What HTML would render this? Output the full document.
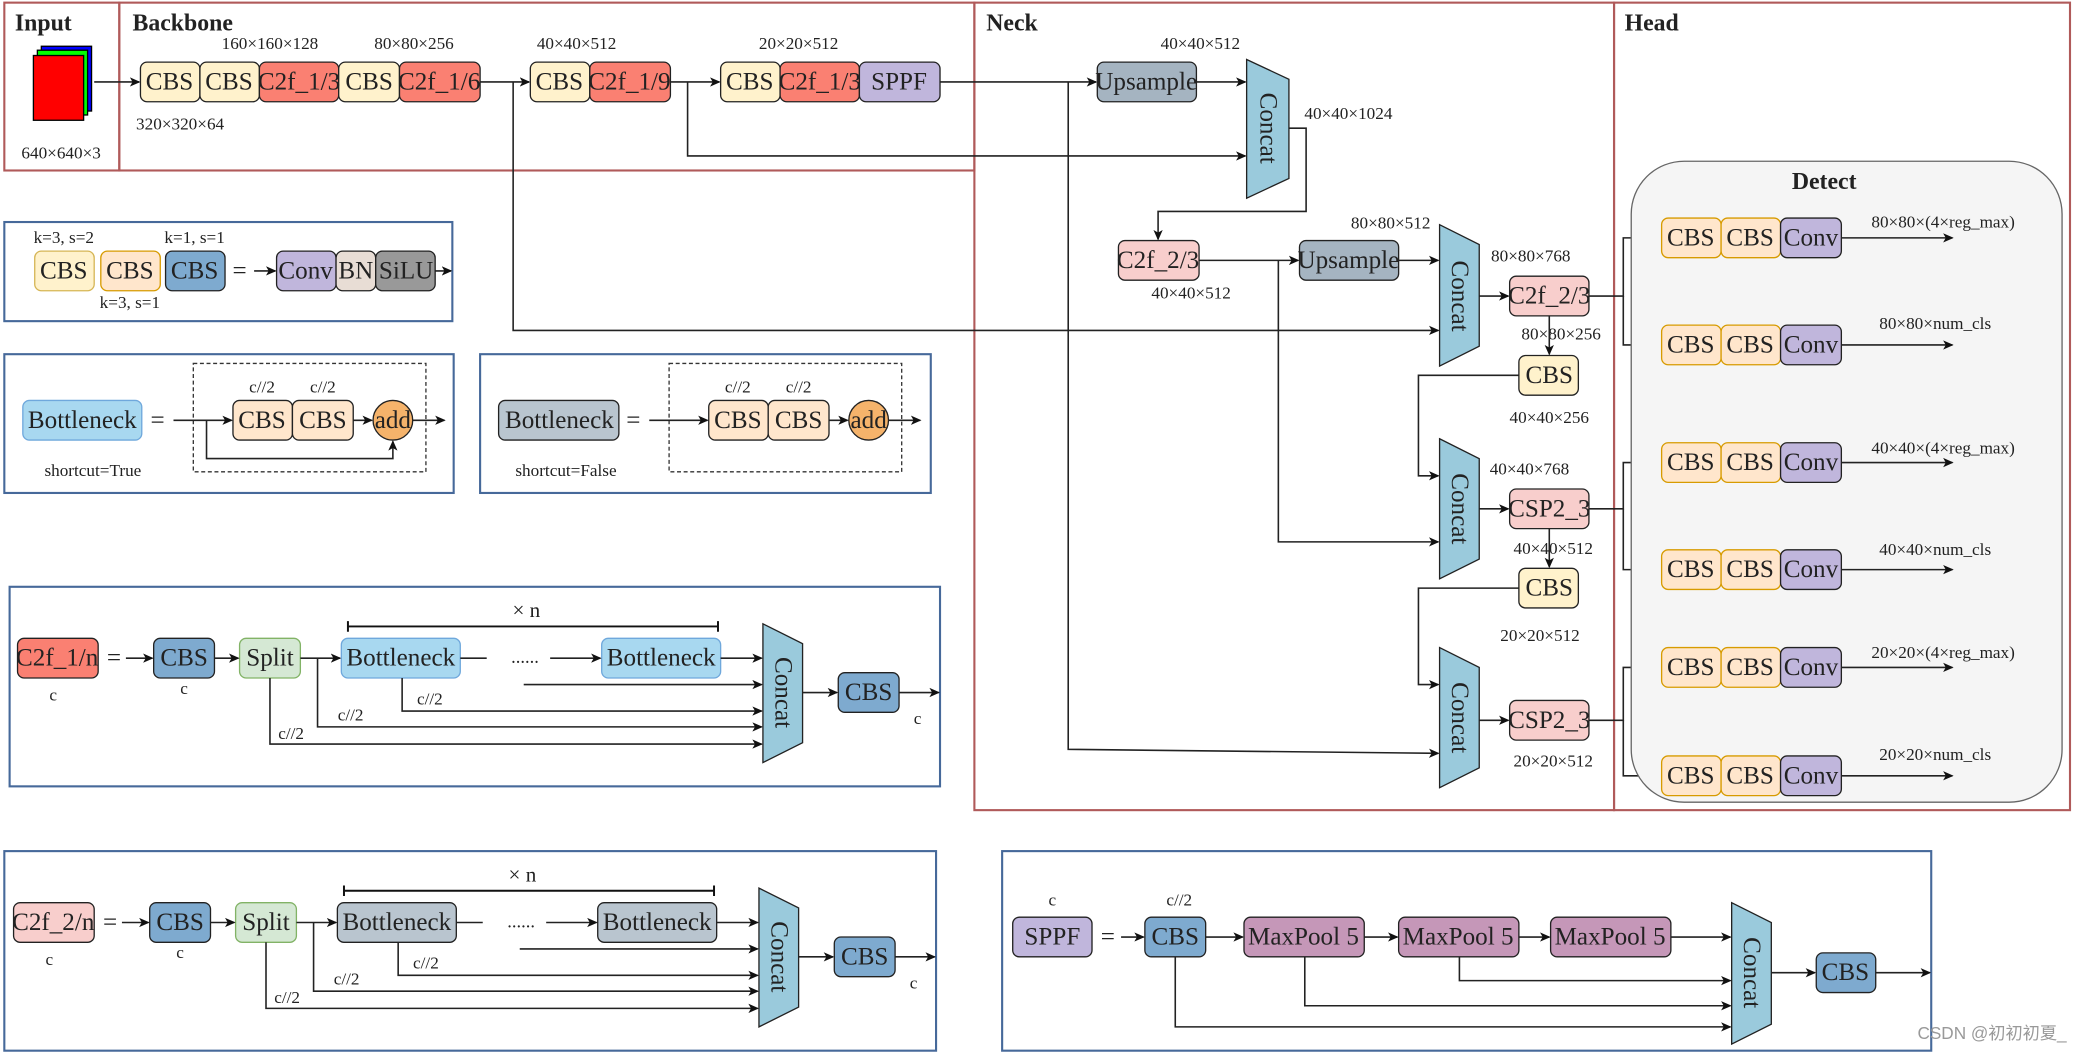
<!DOCTYPE html>
<html><head><meta charset="utf-8"><style>
html,body{margin:0;padding:0;background:#fff}
svg{display:block}
text{font-family:"Liberation Serif",serif;fill:#222}
.b{font-size:19px;text-anchor:middle;dominant-baseline:central}
.s{font-size:13px;text-anchor:middle}
.l{fill:none;stroke:#222;stroke-width:1.2}
</style></head><body>
<svg width="2073" height="1052" viewBox="0 0 1568 796" xmlns="http://www.w3.org/2000/svg">
<defs><marker id="a" markerWidth="8" markerHeight="8" refX="7" refY="4" orient="auto" markerUnits="userSpaceOnUse"><path d="M0,0.5 L8,4 L0,7.5 L2,4z" fill="#111"/></marker></defs>
<g fill="none" stroke="#b05a5a" stroke-width="1.6">
<rect x="3" y="2" width="87" height="127"/><rect x="90" y="2" width="647" height="127"/>
<rect x="737" y="2" width="484" height="611"/><rect x="1221" y="2" width="345" height="611"/>
</g>
<text x="11" y="23" style="font-size:18px;font-weight:bold">Input</text>
<text x="100" y="23" style="font-size:18px;font-weight:bold">Backbone</text>
<text x="746" y="23" style="font-size:18px;font-weight:bold">Neck</text>
<text x="1229" y="23" style="font-size:18px;font-weight:bold">Head</text>
<rect x="31" y="35" width="38" height="49" fill="#00f" stroke="#000"/><rect x="28" y="38" width="38" height="49" fill="#0f0" stroke="#000"/><rect x="25" y="42" width="38" height="49" fill="#f00" stroke="#000"/>
<text x="46" y="120" class="s">640×640×3</text>
<g stroke="#222" stroke-width="1">
<rect x="106" y="47" width="45" height="30" rx="5" fill="#fff2cc"/><rect x="151" y="47" width="45" height="30" rx="5" fill="#fff2cc"/>
<rect x="196" y="47" width="60" height="30" rx="5" fill="#fa8072"/><rect x="256" y="47" width="46" height="30" rx="5" fill="#fff2cc"/>
<rect x="302" y="47" width="61" height="30" rx="5" fill="#fa8072"/>
<rect x="401" y="47" width="45" height="30" rx="5" fill="#fff2cc"/><rect x="446" y="47" width="61" height="30" rx="5" fill="#fa8072"/>
<rect x="545" y="47" width="45" height="30" rx="5" fill="#fff2cc"/><rect x="590" y="47" width="60" height="30" rx="5" fill="#fa8072"/>
<rect x="650" y="47" width="61" height="30" rx="5" fill="#c0b6dc"/>
</g>
<text x="128" y="62" class="b">CBS</text><text x="173" y="62" class="b">CBS</text><text x="226" y="62" class="b">C2f_1/3</text><text x="279" y="62" class="b">CBS</text><text x="332" y="62" class="b">C2f_1/6</text>
<text x="423" y="62" class="b">CBS</text><text x="476" y="62" class="b">C2f_1/9</text><text x="567" y="62" class="b">CBS</text><text x="620" y="62" class="b">C2f_1/3</text><text x="680" y="62" class="b">SPPF</text>
<text x="204" y="37" class="s">160×160×128</text><text x="313" y="37" class="s">80×80×256</text><text x="436" y="37" class="s">40×40×512</text><text x="604" y="37" class="s">20×20×512</text><text x="136" y="98" class="s">320×320×64</text>
<g class="l">
<path d="M71,62H105" marker-end="url(#a)"/><path d="M363,62H400" marker-end="url(#a)"/><path d="M507,62H544" marker-end="url(#a)"/>
<path d="M711,62H829" marker-end="url(#a)"/><path d="M905,62H942" marker-end="url(#a)"/>
<path d="M388,62V250H1088" marker-end="url(#a)"/><path d="M520,62V118H942" marker-end="url(#a)"/>
<path d="M808,62V567L1088,570" marker-end="url(#a)"/>
<path d="M975,97H988V160H876V181" marker-end="url(#a)"/>
<path d="M907,197H982" marker-end="url(#a)"/><path d="M967,197V410H1088" marker-end="url(#a)"/>
<path d="M1058,197H1088" marker-end="url(#a)"/><path d="M1119,224H1141" marker-end="url(#a)"/>
<path d="M1172,239V268" marker-end="url(#a)"/><path d="M1149,284H1073V360H1088" marker-end="url(#a)"/>
<path d="M1119,385H1141" marker-end="url(#a)"/><path d="M1172,400V429" marker-end="url(#a)"/>
<path d="M1149,445H1073V518H1088" marker-end="url(#a)"/><path d="M1119,545H1141" marker-end="url(#a)"/>
<path d="M1202,224H1228V180H1256" marker-end="url(#a)"/><path d="M1228,224V261H1256" marker-end="url(#a)"/>
<path d="M1202,385H1228V350H1256" marker-end="url(#a)"/><path d="M1228,385V431H1256" marker-end="url(#a)"/>
<path d="M1202,545H1228V505H1256" marker-end="url(#a)"/><path d="M1228,545V587H1256" marker-end="url(#a)"/>
</g>
<rect x="830" y="47" width="75" height="30" rx="5" fill="#a5b4c1" stroke="#222"/><text x="867" y="62" class="b">Upsample</text>
<text x="908" y="37" class="s">40×40×512</text><text x="1020" y="90" class="s">40×40×1024</text>
<g fill="#9acadc" stroke="#222">
<polygon points="943,45 975,60 975,135 943,150"/><polygon points="1089,170 1119,185 1119,262 1089,277"/>
<polygon points="1089,332 1119,347 1119,423 1089,438"/><polygon points="1089,490 1119,505 1119,581 1089,596"/>
</g>
<g style="font-size:19px"><text transform="translate(959,97) rotate(90)" text-anchor="middle" dominant-baseline="central">Concat</text>
<text transform="translate(1104,224) rotate(90)" text-anchor="middle" dominant-baseline="central">Concat</text>
<text transform="translate(1104,385) rotate(90)" text-anchor="middle" dominant-baseline="central">Concat</text>
<text transform="translate(1104,543) rotate(90)" text-anchor="middle" dominant-baseline="central">Concat</text></g>
<g stroke="#222"><rect x="846" y="182" width="61" height="30" rx="5" fill="#f8cecc"/><rect x="983" y="182" width="75" height="30" rx="5" fill="#a5b4c1"/>
<rect x="1142" y="209" width="60" height="30" rx="5" fill="#f8cecc"/><rect x="1149" y="269" width="45" height="30" rx="5" fill="#fff2cc"/>
<rect x="1142" y="370" width="60" height="30" rx="5" fill="#f8cecc"/><rect x="1149" y="430" width="45" height="30" rx="5" fill="#fff2cc"/>
<rect x="1142" y="530" width="60" height="30" rx="5" fill="#f8cecc"/></g>
<text x="876" y="197" class="b">C2f_2/3</text><text x="1020" y="197" class="b">Upsample</text><text x="1172" y="224" class="b">C2f_2/3</text><text x="1172" y="284" class="b">CBS</text>
<text x="1172" y="385" class="b">CSP2_3</text><text x="1172" y="445" class="b">CBS</text><text x="1172" y="545" class="b">CSP2_3</text>
<text x="901" y="226" class="s">40×40×512</text><text x="1052" y="173" class="s">80×80×512</text><text x="1158" y="198" class="s">80×80×768</text><text x="1181" y="257" class="s">80×80×256</text>
<text x="1172" y="320" class="s">40×40×256</text><text x="1157" y="359" class="s">40×40×768</text><text x="1175" y="419" class="s">40×40×512</text><text x="1165" y="485" class="s">20×20×512</text><text x="1175" y="580" class="s">20×20×512</text>
<rect x="1234" y="122" width="326" height="485" rx="40" fill="#f5f5f5" stroke="#666"/>
<text x="1380" y="143" style="font-size:18px;font-weight:bold" text-anchor="middle">Detect</text>
<g id="r">
<rect x="1257" y="165" width="45" height="30" rx="5" fill="#ffe6cc" stroke="#d79b00"/><rect x="1302" y="165" width="45" height="30" rx="5" fill="#ffe6cc" stroke="#d79b00"/><rect x="1347" y="165" width="46" height="30" rx="5" fill="#c0b6dc" stroke="#222"/>
<text x="1279" y="180" class="b">CBS</text><text x="1324" y="180" class="b">CBS</text><text x="1370" y="180" class="b">Conv</text>
<path class="l" d="M1393,180H1477" marker-end="url(#a)"/></g>
<use href="#r" y="81"/><use href="#r" y="170"/><use href="#r" y="251"/><use href="#r" y="325"/><use href="#r" y="407"/>
<text x="1470" y="172" class="s">80×80×(4×reg_max)</text><text x="1464" y="249" class="s">80×80×num_cls</text>
<text x="1470" y="343" class="s">40×40×(4×reg_max)</text><text x="1464" y="420" class="s">40×40×num_cls</text>
<text x="1470" y="498" class="s">20×20×(4×reg_max)</text><text x="1464" y="575" class="s">20×20×num_cls</text>
<g fill="none" stroke="#46699a" stroke-width="1.6">
<rect x="3" y="168" width="339" height="75"/><rect x="3" y="268" width="340" height="105"/><rect x="363" y="268" width="341" height="105"/>
<rect x="7" y="444" width="704" height="151"/><rect x="3" y="644" width="705" height="151"/><rect x="758" y="644" width="703" height="151"/>
</g>
<rect x="26" y="190" width="45" height="30" rx="5" fill="#fff2cc" stroke="#d6b656"/><rect x="76" y="190" width="45" height="30" rx="5" fill="#ffe6cc" stroke="#d79b00"/><rect x="125" y="190" width="45" height="30" rx="5" fill="#7eaacf" stroke="#222"/>
<text x="48" y="205" class="b">CBS</text><text x="98" y="205" class="b">CBS</text><text x="147" y="205" class="b">CBS</text>
<text x="181" y="205" class="b">=</text><path class="l" d="M192,205H208" marker-end="url(#a)"/>
<rect x="209" y="190" width="45" height="30" rx="5" fill="#c0b6dc" stroke="#222"/><rect x="254" y="190" width="30" height="30" rx="5" fill="#e8ddd5" stroke="#222"/><rect x="284" y="190" width="45" height="30" rx="5" fill="#999" stroke="#222"/>
<text x="231" y="205" class="b">Conv</text><text x="269" y="205" class="b">BN</text><text x="307" y="205" class="b">SiLU</text><path class="l" d="M329,205H341" marker-end="url(#a)"/>
<text x="48" y="184" class="s">k=3, s=2</text><text x="147" y="184" class="s">k=1, s=1</text><text x="98" y="233" class="s">k=3, s=1</text>
<rect x="17" y="303" width="90" height="30" rx="5" fill="#a8d8f0" stroke="#6fa8dc"/><text x="62" y="318" class="b">Bottleneck</text><text x="119" y="318" class="b">=</text>
<text x="70" y="360" class="s">shortcut=True</text>
<rect x="146" y="275" width="176" height="82" fill="none" stroke="#333" stroke-dasharray="3,2"/>
<rect x="176" y="303" width="45" height="30" rx="5" fill="#ffe6cc" stroke="#222"/><rect x="221" y="303" width="46" height="30" rx="5" fill="#ffe6cc" stroke="#222"/>
<text x="198" y="318" class="b">CBS</text><text x="244" y="318" class="b">CBS</text><circle cx="297" cy="318" r="15" fill="#f5b36b" stroke="#222"/><text x="297" y="318" class="b">add</text>
<text x="198" y="297" class="s">c//2</text><text x="244" y="297" class="s">c//2</text>
<g class="l"><path d="M131,318H175" marker-end="url(#a)"/><path d="M267,318H281" marker-end="url(#a)"/><path d="M312,318H336" marker-end="url(#a)"/><path d="M156,318V347H297V334" marker-end="url(#a)"/></g>
<rect x="377" y="303" width="91" height="30" rx="5" fill="#b9c5cf" stroke="#222"/><text x="423" y="318" class="b">Bottleneck</text><text x="479" y="318" class="b">=</text>
<text x="428" y="360" class="s">shortcut=False</text>
<rect x="506" y="275" width="176" height="82" fill="none" stroke="#333" stroke-dasharray="3,2"/>
<rect x="536" y="303" width="45" height="30" rx="5" fill="#ffe6cc" stroke="#222"/><rect x="581" y="303" width="46" height="30" rx="5" fill="#ffe6cc" stroke="#222"/>
<text x="558" y="318" class="b">CBS</text><text x="604" y="318" class="b">CBS</text><circle cx="657" cy="318" r="15" fill="#f5b36b" stroke="#222"/><text x="657" y="318" class="b">add</text>
<text x="558" y="297" class="s">c//2</text><text x="604" y="297" class="s">c//2</text>
<g class="l"><path d="M491,318H535" marker-end="url(#a)"/><path d="M627,318H641" marker-end="url(#a)"/><path d="M672,318H696" marker-end="url(#a)"/></g>
<g id="c2">
<rect x="13" y="483" width="61" height="30" rx="5" fill="#fa8072" stroke="#222"/><text x="43" y="498" class="b">C2f_1/n</text><text x="86" y="498" class="b">=</text><text x="40" y="530" class="s">c</text>
<rect x="116" y="483" width="46" height="30" rx="5" fill="#7eaacf" stroke="#222"/><text x="139" y="498" class="b">CBS</text><text x="139" y="525" class="s">c</text>
<rect x="181" y="483" width="46" height="30" rx="5" fill="#d5e8d4" stroke="#82b366"/><text x="204" y="498" class="b">Split</text>
<rect x="258" y="483" width="90" height="30" rx="5" fill="#a8d8f0" stroke="#6fa8dc"/><text x="303" y="498" class="b">Bottleneck</text>
<text x="397" y="498" class="b" style="font-size:14px">......</text>
<rect x="455" y="483" width="90" height="30" rx="5" fill="#a8d8f0" stroke="#6fa8dc"/><text x="500" y="498" class="b">Bottleneck</text>
<text x="398" y="467" class="s" style="font-size:16px">× n</text><path d="M263,474H543M263,470V478M543,470V478" stroke="#111" stroke-width="1.5" fill="none"/>
<polygon points="577,472 607,487 607,562 577,577" fill="#9acadc" stroke="#222"/><text transform="translate(592,524) rotate(90)" style="font-size:19px" text-anchor="middle" dominant-baseline="central">Concat</text>
<rect x="634" y="509" width="46" height="30" rx="5" fill="#7eaacf" stroke="#222"/><text x="657" y="524" class="b">CBS</text><text x="694" y="548" class="s">c</text>
<text x="325" y="533" class="s">c//2</text><text x="265" y="545" class="s">c//2</text><text x="220" y="559" class="s">c//2</text>
<g class="l"><path d="M95,498H115" marker-end="url(#a)"/><path d="M162,498H180" marker-end="url(#a)"/><path d="M227,498H257" marker-end="url(#a)"/>
<path d="M348,498H368"/><path d="M416,498H454" marker-end="url(#a)"/><path d="M545,498H576" marker-end="url(#a)"/>
<path d="M396,518H576" marker-end="url(#a)"/><path d="M304,513V538H576" marker-end="url(#a)"/><path d="M240,498V550H576" marker-end="url(#a)"/>
<path d="M204,513V563H576" marker-end="url(#a)"/><path d="M607,524H633" marker-end="url(#a)"/><path d="M680,524H710" marker-end="url(#a)"/></g>
</g>
<g transform="translate(-3,200)">
<rect x="13" y="483" width="61" height="30" rx="5" fill="#f8cecc" stroke="#222"/><text x="43" y="498" class="b">C2f_2/n</text><text x="86" y="498" class="b">=</text><text x="40" y="530" class="s">c</text>
<rect x="116" y="483" width="46" height="30" rx="5" fill="#7eaacf" stroke="#222"/><text x="139" y="498" class="b">CBS</text><text x="139" y="525" class="s">c</text>
<rect x="181" y="483" width="46" height="30" rx="5" fill="#d5e8d4" stroke="#82b366"/><text x="204" y="498" class="b">Split</text>
<rect x="258" y="483" width="90" height="30" rx="5" fill="#b9c5cf" stroke="#222"/><text x="303" y="498" class="b">Bottleneck</text>
<text x="397" y="498" class="b" style="font-size:14px">......</text>
<rect x="455" y="483" width="90" height="30" rx="5" fill="#b9c5cf" stroke="#222"/><text x="500" y="498" class="b">Bottleneck</text>
<text x="398" y="467" class="s" style="font-size:16px">× n</text><path d="M263,474H543M263,470V478M543,470V478" stroke="#111" stroke-width="1.5" fill="none"/>
<polygon points="577,472 607,487 607,562 577,577" fill="#9acadc" stroke="#222"/><text transform="translate(592,524) rotate(90)" style="font-size:19px" text-anchor="middle" dominant-baseline="central">Concat</text>
<rect x="634" y="509" width="46" height="30" rx="5" fill="#7eaacf" stroke="#222"/><text x="657" y="524" class="b">CBS</text><text x="694" y="548" class="s">c</text>
<text x="325" y="533" class="s">c//2</text><text x="265" y="545" class="s">c//2</text><text x="220" y="559" class="s">c//2</text>
<g class="l"><path d="M95,498H115" marker-end="url(#a)"/><path d="M162,498H180" marker-end="url(#a)"/><path d="M227,498H257" marker-end="url(#a)"/>
<path d="M348,498H368"/><path d="M416,498H454" marker-end="url(#a)"/><path d="M545,498H576" marker-end="url(#a)"/>
<path d="M396,518H576" marker-end="url(#a)"/><path d="M304,513V538H576" marker-end="url(#a)"/><path d="M240,498V550H576" marker-end="url(#a)"/>
<path d="M204,513V563H576" marker-end="url(#a)"/><path d="M607,524H633" marker-end="url(#a)"/><path d="M680,524H710" marker-end="url(#a)"/></g>
</g>
<rect x="766" y="694" width="60" height="30" rx="5" fill="#c0b6dc" stroke="#222"/><text x="796" y="709" class="b">SPPF</text><text x="796" y="685" class="s">c</text><text x="838" y="709" class="b">=</text>
<rect x="866" y="694" width="46" height="30" rx="5" fill="#7eaacf" stroke="#222"/><text x="889" y="709" class="b">CBS</text><text x="892" y="685" class="s">c//2</text>
<g stroke="#222" fill="#c597b8"><rect x="941" y="694" width="91" height="30" rx="5"/><rect x="1058" y="694" width="91" height="30" rx="5"/><rect x="1173" y="694" width="91" height="30" rx="5"/></g>
<text x="986" y="709" class="b">MaxPool 5</text><text x="1103" y="709" class="b">MaxPool 5</text><text x="1218" y="709" class="b">MaxPool 5</text>
<polygon points="1310,683 1340,698 1340,775 1310,790" fill="#9acadc" stroke="#222"/><text transform="translate(1325,736) rotate(90)" style="font-size:19px" text-anchor="middle" dominant-baseline="central">Concat</text>
<rect x="1374" y="721" width="45" height="30" rx="5" fill="#7eaacf" stroke="#222"/><text x="1396" y="736" class="b">CBS</text>
<g class="l"><path d="M848,709H865" marker-end="url(#a)"/><path d="M912,709H940" marker-end="url(#a)"/><path d="M1032,709H1057" marker-end="url(#a)"/><path d="M1149,709H1172" marker-end="url(#a)"/>
<path d="M1264,709H1309" marker-end="url(#a)"/><path d="M1104,724V742H1309" marker-end="url(#a)"/><path d="M987,724V761H1309" marker-end="url(#a)"/><path d="M889,724V777H1309" marker-end="url(#a)"/>
<path d="M1340,736H1373" marker-end="url(#a)"/><path d="M1419,736H1460" marker-end="url(#a)"/></g>
<text x="1507" y="786" style="font-size:13px;fill:#999;font-family:'Liberation Sans','Noto Sans CJK SC',sans-serif" text-anchor="middle">CSDN @初初初夏_</text>
</svg>
</body></html>
